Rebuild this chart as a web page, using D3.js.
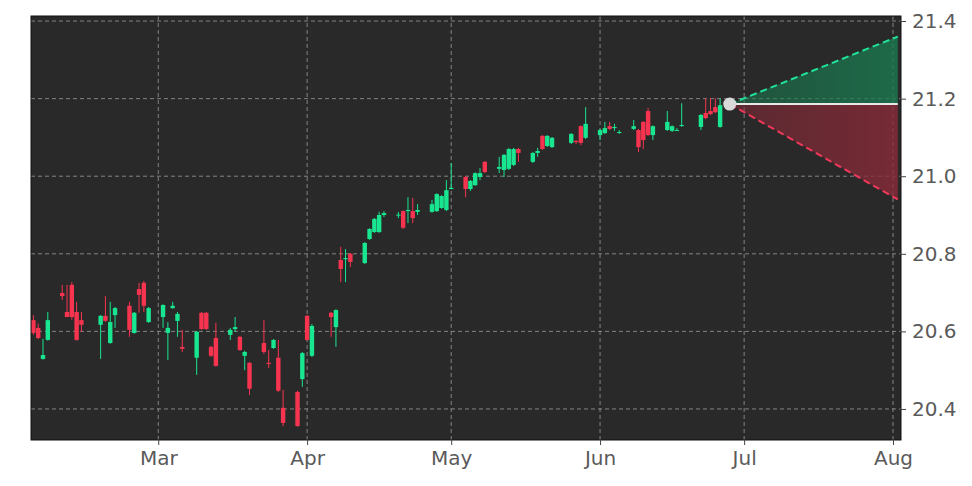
<!DOCTYPE html>
<html><head><meta charset="utf-8">
<script src="https://cdn.jsdelivr.net/npm/d3@7"></script>
<style>body{margin:0;background:#fff}svg{display:block;font-family:"DejaVu Sans",sans-serif}</style>
</head><body><svg id="c" width="972" height="486"></svg>
<script>
const dates=["2026-02-03","2026-02-04","2026-02-05","2026-02-06","2026-02-09","2026-02-10","2026-02-11","2026-02-12","2026-02-13","2026-02-17","2026-02-18","2026-02-19","2026-02-20","2026-02-23","2026-02-24","2026-02-25","2026-02-26","2026-02-27","2026-03-02","2026-03-03","2026-03-04","2026-03-05","2026-03-06","2026-03-09","2026-03-10","2026-03-11","2026-03-12","2026-03-13","2026-03-16","2026-03-17","2026-03-18","2026-03-19","2026-03-20","2026-03-23","2026-03-24","2026-03-25","2026-03-26","2026-03-27","2026-03-30","2026-03-31","2026-04-01","2026-04-02","2026-04-06","2026-04-07","2026-04-08","2026-04-09","2026-04-10","2026-04-13","2026-04-14","2026-04-15","2026-04-16","2026-04-17","2026-04-20","2026-04-21","2026-04-22","2026-04-23","2026-04-24","2026-04-27","2026-04-28","2026-04-29","2026-04-30","2026-05-01","2026-05-04","2026-05-05","2026-05-06","2026-05-07","2026-05-08","2026-05-11","2026-05-12","2026-05-13","2026-05-14","2026-05-15","2026-05-18","2026-05-19","2026-05-20","2026-05-21","2026-05-22","2026-05-26","2026-05-27","2026-05-28","2026-05-29","2026-06-01","2026-06-02","2026-06-03","2026-06-04","2026-06-05","2026-06-08","2026-06-09","2026-06-10","2026-06-11","2026-06-12","2026-06-15","2026-06-16","2026-06-17","2026-06-18","2026-06-22","2026-06-23","2026-06-24","2026-06-25","2026-06-26"];
const open=[20.629,20.609,20.529,20.578,20.699,20.650,20.720,20.650,20.629,20.617,20.640,20.570,20.642,20.666,20.596,20.709,20.725,20.624,20.637,20.596,20.660,20.627,20.560,20.532,20.648,20.648,20.560,20.583,20.591,20.606,20.586,20.537,20.519,20.570,20.519,20.557,20.532,20.403,20.444,20.477,20.640,20.537,20.648,20.611,20.784,20.786,20.800,20.776,20.838,20.856,20.856,20.900,20.899,20.910,20.910,20.910,20.908,20.908,20.910,20.918,20.913,20.967,20.998,20.967,20.977,20.998,21.037,21.019,21.016,21.019,21.029,21.070,21.037,21.060,21.104,21.078,21.075,21.086,21.091,21.129,21.099,21.106,21.111,21.129,21.124,21.113,21.122,21.119,21.140,21.168,21.106,21.119,21.117,21.118,21.131,21.127,21.163,21.168,21.178,21.127];
const close=[20.596,20.583,20.539,20.629,20.691,20.637,20.637,20.578,20.617,20.640,20.627,20.624,20.660,20.604,20.648,20.694,20.666,20.660,20.668,20.609,20.666,20.645,20.555,20.599,20.606,20.606,20.537,20.511,20.604,20.611,20.552,20.547,20.452,20.547,20.516,20.578,20.447,20.364,20.356,20.544,20.578,20.614,20.637,20.655,20.761,20.789,20.779,20.828,20.864,20.890,20.900,20.905,20.901,20.867,20.913,20.892,20.913,20.928,20.954,20.949,20.964,20.970,20.967,20.988,21.008,21.008,21.011,21.024,21.055,21.070,21.070,21.060,21.060,21.065,21.070,21.104,21.099,21.109,21.088,21.086,21.135,21.119,21.124,21.122,21.127,21.114,21.129,21.075,21.093,21.106,21.129,21.140,21.129,21.119,21.132,21.158,21.150,21.160,21.165,21.183];
const high=[20.642,20.620,20.581,20.650,20.720,20.720,20.727,20.676,20.650,20.642,20.691,20.676,20.663,20.676,20.650,20.725,20.730,20.663,20.670,20.624,20.676,20.650,20.604,20.601,20.650,20.650,20.563,20.622,20.609,20.637,20.588,20.550,20.521,20.629,20.552,20.580,20.578,20.449,20.447,20.547,20.642,20.619,20.650,20.657,20.818,20.812,20.802,20.830,20.866,20.892,20.908,20.910,20.908,20.912,20.946,20.944,20.928,20.939,20.956,20.951,20.990,21.034,21.000,20.990,21.010,21.021,21.039,21.050,21.057,21.073,21.073,21.073,21.062,21.073,21.106,21.106,21.101,21.111,21.093,21.131,21.178,21.122,21.140,21.140,21.135,21.119,21.145,21.122,21.142,21.176,21.131,21.168,21.131,21.124,21.188,21.160,21.201,21.201,21.201,21.200];
const low=[20.591,20.580,20.527,20.576,20.681,20.637,20.630,20.576,20.599,20.529,20.624,20.568,20.609,20.586,20.594,20.648,20.650,20.622,20.609,20.526,20.658,20.586,20.547,20.488,20.604,20.604,20.534,20.509,20.578,20.599,20.550,20.500,20.436,20.542,20.506,20.555,20.444,20.356,20.354,20.457,20.576,20.534,20.586,20.560,20.727,20.727,20.766,20.774,20.836,20.854,20.854,20.895,20.892,20.864,20.879,20.879,20.900,20.906,20.908,20.916,20.910,20.966,20.946,20.962,20.975,20.990,21.008,21.008,20.998,21.016,21.026,21.037,21.034,21.050,21.068,21.075,21.073,21.083,21.083,21.080,21.096,21.093,21.109,21.119,21.117,21.109,21.119,21.062,21.070,21.104,21.093,21.117,21.114,21.117,21.127,21.119,21.147,21.158,21.163,21.125];
const forecastDates=["2026-06-28","2026-08-02"];
const forecastMid=[21.186,21.186];
const forecastHigh=[21.186,21.360];
const forecastLow=[21.186,20.940];
const yTicks=[20.4,20.6,20.8,21.0,21.2,21.4];
const xTickDates=["2026-03-01","2026-04-01","2026-05-01","2026-06-01","2026-07-01","2026-08-01"];
const xTickLabels=["Mar","Apr","May","Jun","Jul","Aug"];

const svg=d3.select("#c");
const L=31,R=901,T=16,B=440;
const p=d3.utcParse("%Y-%m-%d");
const x=d3.scaleUtc().domain([new Date(Date.UTC(2026,1,2,12)),new Date(Date.UTC(2026,7,2,16))]).range([L,R]);
const y=d3.scaleLinear().domain([20.320,21.413]).range([B,T]);
svg.append("rect").attr("x",L).attr("y",T).attr("width",R-L).attr("height",B-T).attr("fill","#292929");
const g=svg.append("g");
g.selectAll(".gy").data(yTicks).join("line").attr("x1",L).attr("x2",R).attr("y1",d=>y(d)).attr("y2",d=>y(d)).attr("stroke","#9a9a9a").attr("stroke-width",0.8).attr("stroke-dasharray","4,3");
g.selectAll(".gx").data(xTickDates).join("line").attr("x1",d=>x(p(d))).attr("x2",d=>x(p(d))).attr("y1",T).attr("y2",B).attr("stroke","#9a9a9a").attr("stroke-width",0.8).attr("stroke-dasharray","4,3");
const UP="#18e690",DN="#f7344f";
const data=dates.map((d,i)=>({d:p(d),o:open[i],c:close[i],h:high[i],l:low[i]}));
const cg=svg.append("g");
cg.selectAll("line").data(data).join("line").attr("x1",d=>x(d.d)).attr("x2",d=>x(d.d)).attr("y1",d=>y(d.h)).attr("y2",d=>y(d.l)).attr("stroke",d=>d.c>=d.o?UP:DN).attr("stroke-width",1);
cg.selectAll("rect").data(data).join("rect").attr("x",d=>x(d.d)-2.2).attr("width",4.4).attr("y",d=>y(Math.max(d.o,d.c))).attr("height",d=>Math.max(1,Math.abs(y(d.o)-y(d.c)))).attr("fill",d=>d.c>=d.o?UP:DN);
// forecast
const fd=forecastDates.map(p);
const defs=svg.append("defs");
const gu=defs.append("linearGradient").attr("id","gu").attr("x1",0).attr("x2",1);
gu.append("stop").attr("offset","0").attr("stop-color","#1a7a50").attr("stop-opacity",0.5);
gu.append("stop").attr("offset","1").attr("stop-color","#1a7a50").attr("stop-opacity",0.8);
const gd=defs.append("linearGradient").attr("id","gd").attr("x1",0).attr("x2",1);
gd.append("stop").attr("offset","0").attr("stop-color","#8a2a38").attr("stop-opacity",0.5);
gd.append("stop").attr("offset","1").attr("stop-color","#8a2a38").attr("stop-opacity",0.8);
const area=(a,b)=>d3.area().x((d,i)=>x(fd[i])).y0((d,i)=>y(a[i])).y1((d,i)=>y(b[i]))(fd);
svg.append("path").attr("d",area(forecastMid,forecastHigh)).attr("fill","url(#gu)");
svg.append("path").attr("d",area(forecastMid,forecastLow)).attr("fill","url(#gd)");
const ln=arr=>d3.line().x((d,i)=>x(fd[i])).y((d,i)=>y(arr[i]))(fd);
svg.append("path").attr("d",ln(forecastHigh)).attr("stroke","#1fe39a").attr("stroke-width",2).attr("stroke-dasharray","7,4").attr("fill","none");
svg.append("path").attr("d",ln(forecastLow)).attr("stroke","#f0395a").attr("stroke-width",2).attr("stroke-dasharray","7,4").attr("fill","none");
svg.append("path").attr("d",ln(forecastMid)).attr("stroke","#e8e8e8").attr("stroke-width",2).attr("fill","none");
svg.append("circle").attr("cx",x(fd[0])).attr("cy",y(forecastMid[0])).attr("r",6.5).attr("fill","#d9d9d9");
svg.append("rect").attr("x",L).attr("y",T).attr("width",R-L).attr("height",B-T).attr("fill","none").attr("stroke","#111").attr("stroke-width",1);
// axes
const ya=svg.append("g").attr("transform",`translate(${R},0)`).call(d3.axisRight(y).tickValues(yTicks).tickFormat(d3.format(".1f")).tickSize(5).tickPadding(6));
const xa=svg.append("g").attr("transform",`translate(0,${B})`).call(d3.axisBottom(x).tickValues(xTickDates.map(p)).tickFormat((d,i)=>xTickLabels[i]).tickSize(5).tickPadding(6));
[ya,xa].forEach(a=>{a.select(".domain").remove();a.selectAll("line").attr("stroke","#444");a.selectAll("text").attr("fill","#5a5a5a").attr("font-size",20).attr("font-family","DejaVu Sans");});
</script></body></html>
